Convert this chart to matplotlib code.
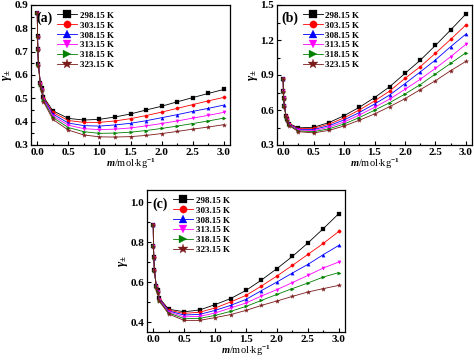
import matplotlib
matplotlib.use("Agg")
import matplotlib.pyplot as plt
from matplotlib.ticker import MultipleLocator

plt.rcParams['font.family'] = ['Liberation Serif', 'DejaVu Serif']
plt.rcParams['font.weight'] = 'bold'
plt.rcParams['mathtext.fontset'] = 'custom'
plt.rcParams['mathtext.rm'] = 'Liberation Serif:bold'
plt.rcParams['mathtext.it'] = 'Liberation Serif:italic:bold'
plt.rcParams['mathtext.bf'] = 'Liberation Serif:bold'

m = [0.001, 0.005, 0.01, 0.02, 0.05, 0.07, 0.1, 0.25, 0.5, 0.75, 1.0,
     1.25, 1.5, 1.75, 2.0, 2.25, 2.5, 2.75, 3.0]

temps = ['298.15 K', '303.15 K', '308.15 K', '313.15 K', '318.15 K', '323.15 K']
colors = ['#000000', '#ff0000', '#0000ff', '#ff00ff', '#008000', '#7b1a1a']
markers = ['s', 'o', '^', 'v', '>', '*']

gamma_a = [
    [0.866, 0.766, 0.712, 0.647, 0.567, 0.545, 0.507, 0.447, 0.414, 0.407, 0.410, 0.420, 0.433, 0.450, 0.466, 0.485, 0.503, 0.521, 0.538],
    [0.866, 0.765, 0.711, 0.645, 0.565, 0.542, 0.503, 0.440, 0.405, 0.397, 0.397, 0.403, 0.413, 0.426, 0.441, 0.457, 0.473, 0.489, 0.504],
    [0.866, 0.765, 0.710, 0.644, 0.563, 0.540, 0.499, 0.433, 0.394, 0.383, 0.381, 0.386, 0.393, 0.404, 0.417, 0.430, 0.444, 0.457, 0.471],
    [0.865, 0.764, 0.709, 0.642, 0.561, 0.537, 0.495, 0.425, 0.385, 0.370, 0.366, 0.368, 0.373, 0.382, 0.392, 0.403, 0.415, 0.427, 0.440],
    [0.865, 0.763, 0.708, 0.641, 0.559, 0.534, 0.491, 0.418, 0.375, 0.357, 0.350, 0.351, 0.355, 0.362, 0.371, 0.381, 0.392, 0.403, 0.415],
    [0.865, 0.762, 0.707, 0.639, 0.556, 0.531, 0.486, 0.410, 0.364, 0.343, 0.335, 0.334, 0.336, 0.341, 0.349, 0.358, 0.368, 0.377, 0.387],
]

gamma_b = [
    [0.866, 0.762, 0.702, 0.637, 0.548, 0.522, 0.484, 0.447, 0.452, 0.492, 0.551, 0.623, 0.706, 0.800, 0.914, 1.026, 1.154, 1.286, 1.423],
    [0.866, 0.761, 0.701, 0.636, 0.546, 0.519, 0.480, 0.440, 0.443, 0.478, 0.532, 0.600, 0.677, 0.763, 0.871, 0.971, 1.086, 1.206, 1.329],
    [0.866, 0.760, 0.700, 0.635, 0.544, 0.517, 0.477, 0.434, 0.433, 0.465, 0.515, 0.578, 0.651, 0.729, 0.826, 0.926, 1.029, 1.143, 1.251],
    [0.865, 0.759, 0.699, 0.633, 0.542, 0.514, 0.474, 0.428, 0.423, 0.452, 0.497, 0.557, 0.623, 0.694, 0.777, 0.863, 0.957, 1.057, 1.163],
    [0.865, 0.758, 0.698, 0.632, 0.540, 0.511, 0.470, 0.421, 0.414, 0.438, 0.480, 0.535, 0.598, 0.663, 0.737, 0.817, 0.909, 1.000, 1.091],
    [0.865, 0.757, 0.697, 0.630, 0.537, 0.508, 0.466, 0.414, 0.404, 0.425, 0.463, 0.512, 0.566, 0.629, 0.697, 0.774, 0.851, 0.937, 1.017],
]

gamma_c = [
    [0.886, 0.782, 0.724, 0.661, 0.582, 0.560, 0.520, 0.464, 0.451, 0.460, 0.487, 0.517, 0.558, 0.610, 0.667, 0.728, 0.795, 0.867, 0.942],
    [0.886, 0.781, 0.723, 0.660, 0.580, 0.557, 0.516, 0.459, 0.443, 0.449, 0.470, 0.500, 0.533, 0.580, 0.630, 0.683, 0.738, 0.793, 0.853],
    [0.886, 0.780, 0.722, 0.659, 0.578, 0.555, 0.513, 0.455, 0.435, 0.438, 0.458, 0.483, 0.513, 0.557, 0.600, 0.645, 0.688, 0.737, 0.783],
    [0.885, 0.779, 0.721, 0.657, 0.576, 0.552, 0.510, 0.450, 0.426, 0.428, 0.445, 0.470, 0.495, 0.530, 0.562, 0.597, 0.633, 0.670, 0.700],
    [0.885, 0.778, 0.720, 0.656, 0.574, 0.550, 0.506, 0.445, 0.417, 0.418, 0.433, 0.453, 0.478, 0.508, 0.538, 0.567, 0.595, 0.625, 0.647],
    [0.885, 0.777, 0.719, 0.655, 0.572, 0.547, 0.503, 0.440, 0.408, 0.408, 0.422, 0.437, 0.458, 0.483, 0.505, 0.528, 0.550, 0.567, 0.583],
]

fig = plt.figure(figsize=(4.74, 3.6), dpi=100)

panels = [
    ('(a)', gamma_a, [31/474, 215/360, 199/474, 140/360], (0.3, 0.9), 0.1, 0.05),
    ('(b)', gamma_b, [277/474, 215/360, 195/474, 140/360], (0.3, 1.5), 0.3, 0.15),
    ('(c)', gamma_c, [147/474, 28/360, 198/474, 142/360], (0.35, 1.06), 0.2, 0.1),
]

for label, data, rect, ylim, ymaj, ymin in panels:
    ax = fig.add_axes(rect)
    for vals, c, mk, t in zip(data, colors, markers, temps):
        ms = 2.4 if mk != '*' else 3.2
        ax.plot(m, vals, color=c, marker=mk, markersize=ms, linewidth=0.6, label=t,
                markeredgewidth=0.2)
    ax.set_xlim(-0.1, 3.1)
    ax.set_ylim(*ylim)
    ax.xaxis.set_major_locator(MultipleLocator(0.5))
    ax.xaxis.set_minor_locator(MultipleLocator(0.25))
    ax.yaxis.set_major_locator(MultipleLocator(ymaj))
    ax.yaxis.set_minor_locator(MultipleLocator(ymin))
    ax.tick_params(which='both', direction='in', labelsize=8, width=0.8, pad=2)
    ax.tick_params(which='major', length=3)
    ax.tick_params(which='minor', length=1.8)
    for lab in ax.get_xticklabels() + ax.get_yticklabels():
        lab.set_fontweight('bold')
    for s in ax.spines.values():
        s.set_linewidth(0.9)
    ax.set_xlabel(r'$m$/mol$\cdot$kg$^{\mathbf{-1}}$', fontsize=7.5, labelpad=0)
    ax.set_ylabel(r'$\gamma_{\pm}$', fontsize=9, labelpad=0)
    ax.text(0.025, 0.95, label, transform=ax.transAxes, fontsize=10,
            fontweight='bold', va='top', ha='left')
    leg = ax.legend(loc='upper left', bbox_to_anchor=(0.1, 1.0), frameon=False,
                    fontsize=6.5, handlelength=2.2, handletextpad=0.3,
                    labelspacing=0.18, borderaxespad=0.3, markerscale=2.2)
    for t in leg.get_texts():
        t.set_fontweight('bold')

fig.savefig('out.png', dpi=100)
